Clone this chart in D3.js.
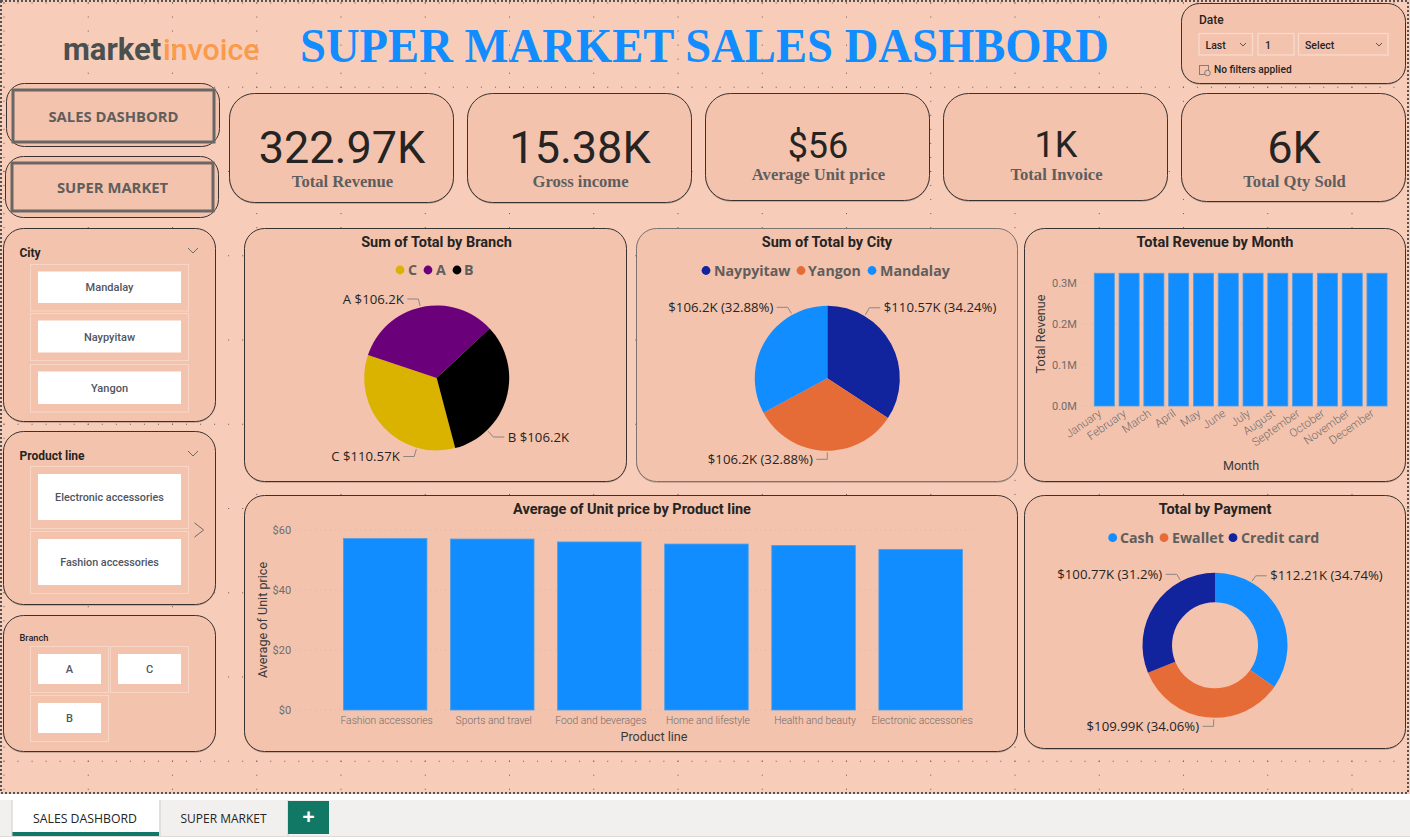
<!DOCTYPE html>
<html><head><meta charset="utf-8">
<script src="https://cdn.jsdelivr.net/npm/d3@7/dist/d3.min.js"></script>
<style>html,body{margin:0;padding:0;background:#fff;overflow:hidden}svg{display:block}text{font-family:Roboto,sans-serif}</style>
</head><body><svg id="c" width="1410" height="840"></svg>
<script>
// ---------- data ----------
const kpiLabels=["Total Revenue","Gross income","Average Unit price","Total Invoice","Total Qty Sold"];
const kpiValues=["322.97K","15.38K","$56","1K","6K"];
const cityNames=["Mandalay","Naypyitaw","Yangon"];
const productSlicer=["Electronic accessories","Fashion accessories"];
const branchSlicer=["A","C","B"];
const branchCats=["C","A","B"];
const branchVals=[110.57,106.2,106.2];
const cityCats=["Naypyitaw","Yangon","Mandalay"];
const cityVals=[110.57,106.2,106.2];
const cityPct=[34.24,32.88,32.88];
const payCats=["Cash","Ewallet","Credit card"];
const payVals=[112.21,109.99,100.77];
const payPct=[34.74,34.06,31.2];
const months=["January","February","March","April","May","June","July","August","September","October","November","December"];
const monthRevenue=[.32297,.32297,.32297,.32297,.32297,.32297,.32297,.32297,.32297,.32297,.32297,.32297];
const productLines=["Fashion accessories","Sports and travel","Food and beverages","Home and lifestyle","Health and beauty","Electronic accessories"];
const unitPrice=[57.15,56.99,56.01,55.32,54.85,53.55];
const tabs=["SALES DASHBORD","SUPER MARKET"];

// ---------- style ----------
const BG="#F7CDBA",CARD="#F4C3AE",EDGE="#3a3230",INK="#252423",GREY="#605E5C",BLUE="#118DFF",NAVY="#12239E",ORANGE="#E66C37",PURPLE="#6B007B",GOLD="#D9B300",TICK="#6f6d6b",AXT="#3b3a39";
const svg=d3.select("#c");
const text=(x,y,s,o={})=>{const t=svg.append("text").attr("x",x).attr("y",y).text(s)
  .attr("font-size",o.size||12).attr("fill",o.fill||INK).attr("text-anchor",o.anchor||"start").attr("font-weight",o.weight||400);
  if(o.font)t.style("font-family",o.font);if(o.ls)t.attr("letter-spacing",o.ls);if(o.len)t.attr("textLength",o.len).attr("lengthAdjust","spacingAndGlyphs");return t;};
const card=(x0,y0,x1,y1,r=20,edge=EDGE)=>{
  svg.append("rect").attr("x",x0+.5).attr("y",y0+1.2).attr("width",x1-x0).attr("height",y1-y0).attr("rx",r).attr("fill","none").attr("stroke","#8a7468").attr("stroke-opacity",.6).attr("stroke-width",1);
  svg.append("rect").attr("x",x0+.5).attr("y",y0+.5).attr("width",x1-x0).attr("height",y1-y0).attr("rx",r).attr("fill",CARD).attr("stroke",edge).attr("stroke-width",1);};
const chevron=(x,y,dir="down",s=5,col="#6f6a68")=>{
  const p=dir=="down"?[[x-s,y-s/2],[x,y+s/2],[x+s,y-s/2]]:[[x-s/1.3,y-s*1.2],[x+s/1.3,y],[x-s/1.3,y+s*1.2]];
  svg.append("path").attr("d",d3.line()(p)).attr("fill","none").attr("stroke",col).attr("stroke-width",1);};

// canvas
svg.append("rect").attr("width",1410).attr("height",794).attr("fill",BG);
const step=84.25,dot=14.04;
const dots=[];
d3.range(0,10).forEach(r=>d3.range(0,101).forEach(i=>dots.push([3.5+i*dot,2.5+r*step])));
d3.range(0,17).forEach(c=>d3.range(0,57).forEach(i=>dots.push([3.5+c*step,2.5+i*dot])));
svg.append("g").selectAll("rect").data(dots).join("rect").attr("x",d=>d[0]).attr("y",d=>d[1]).attr("width",1).attr("height",1).attr("fill","#6b5a52");
svg.append("rect").attr("x",1).attr("y",1).attr("width",1407).attr("height",792).attr("fill","none").attr("stroke","#555").attr("stroke-width",2).attr("stroke-dasharray","2 2");

// bottom tabs
svg.append("rect").attr("x",0).attr("y",800).attr("width",1410).attr("height",36).attr("fill","#F1F0EE");
svg.append("rect").attr("x",0).attr("y",836).attr("width",1410).attr("height",1).attr("fill","#dcdbd9");
svg.append("rect").attr("x",12).attr("y",800).attr("width",147).attr("height",36).attr("fill","#fff");
svg.append("rect").attr("x",12).attr("y",832).attr("width",147).attr("height",4).attr("fill","#117865");
[11.5,159.5,287.5].forEach(x=>svg.append("rect").attr("x",x).attr("y",800).attr("width",1).attr("height",36).attr("fill","#cfcdcb"));
svg.append("rect").attr("x",288).attr("y",801).attr("width",41).attr("height",33).attr("fill","#117865");
text(308.5,824,"+",{size:22,fill:"#fff",anchor:"middle",weight:700,font:"'Open Sans'"});
text(85,823,tabs[0],{size:12.5,anchor:"middle",font:"'Open Sans'",len:104});
text(223.5,823,tabs[1],{size:12.5,anchor:"middle",font:"'Open Sans'",len:86});

// header
text(63,60,"market",{size:31,weight:700,fill:"#4A4F50"});
text(163,60,"invoice",{size:30.4,weight:500,fill:"#FB9A4B"});
text(300,62,"SUPER MARKET SALES DASHBORD",{size:48,weight:700,fill:BLUE,font:"'Liberation Serif'",len:809});

// nav buttons
[[6,83,219,146,13,90,214,142,tabs[0],121.5],[5,156,218,217,12,163,213,211,"SUPER MARKET",192.5]].forEach(b=>{
  svg.append("rect").attr("x",b[0]+.5).attr("y",b[1]+.5).attr("width",b[2]-b[0]).attr("height",b[3]-b[1]).attr("rx",18).attr("fill",CARD).attr("stroke",EDGE);
  svg.append("rect").attr("x",b[4]).attr("y",b[5]).attr("width",b[6]-b[4]).attr("height",b[7]-b[5]).attr("fill",CARD).attr("stroke","#6a6664").attr("stroke-width",3);
  text((b[4]+b[6])/2,b[9],b[8],{size:14.8,weight:700,fill:GREY,anchor:"middle",font:"'Open Sans'"});
});

// KPI cards
const kpiX=[229,467,705,943,1181];
const kpiLayout=[[45,162.5,187,202],[45,162.5,187,202],[36,158,180,200],[36,157,180,200],[45,162.5,187,201]];
kpiValues.forEach((v,i)=>{
  const [fs,by,ly,bot]=kpiLayout[i],x=kpiX[i];
  card(x,93,x+224,bot,25);
  text(x+113,by,v,{size:fs,anchor:"middle"});
  text(x+113.5,ly,kpiLabels[i],{size:16.6,weight:700,fill:GREY,anchor:"middle",font:"'Liberation Serif'"});
});

// date slicer
card(1181,3,1405,83,18);
text(1199,24,"Date",{size:12,weight:500});
[[1199,1252.5],[1258,1294],[1298.5,1388]].forEach(b=>svg.append("rect").attr("x",b[0]).attr("y",33.5).attr("width",b[1]-b[0]).attr("height",21.5).attr("fill","none").attr("stroke","#F5DCCF").attr("stroke-width",1.2));
text(1205.5,49,"Last",{size:10.5,weight:500});
text(1265,49,"1",{size:10.5,weight:500});
text(1305,49,"Select",{size:10.5,weight:500});
chevron(1243,44.5,"down",3,"#555");chevron(1379,44.5,"down",3,"#555");
svg.append("rect").attr("x",1199.5).attr("y",65.5).attr("width",9).attr("height",9).attr("fill","none").attr("stroke","#8a7a72");
svg.append("circle").attr("cx",1207.5).attr("cy",73).attr("r",2.8).attr("fill",CARD).attr("stroke","#8a7a72");
text(1214,72.5,"No filters applied",{size:10.2,weight:500});

// slicers
const slicerBtn=(x0,x1,y0,y1,pad,s,fs=11)=>{
  svg.append("rect").attr("x",x0+.5).attr("y",y0+.5).attr("width",x1-x0).attr("height",y1-y0).attr("fill","none").attr("stroke","#F7D6C6");
  svg.append("rect").attr("x",x0+8).attr("y",y0+pad).attr("width",x1-x0-15).attr("height",y1-y0-2*pad).attr("fill","#fff");
  text((x0+x1)/2+.5,(y0+y1)/2+4,s,{size:fs,weight:500,fill:"#4f5561",anchor:"middle"});
};
card(3,228,215,421,20);
text(19.5,257,"City",{size:12,weight:700});chevron(193,250.5);
[[264,310.5],[313,360],[364,411.5]].forEach((r,i)=>slicerBtn(30,188,r[0],r[1],7.5,cityNames[i]));
card(3,431,215,604,20);
text(19.5,460,"Product line",{size:12,weight:700});chevron(193,453.5);
[[466,528],[531,593]].forEach((r,i)=>slicerBtn(30,188,r[0],r[1],8,productSlicer[i],10.8));
chevron(199,530,"right",6);
card(3,615,215,751,20);
text(19.5,640.5,"Branch",{size:9.2,weight:500});
[[30,108,646,692],[110,188,646,692],[30,108,695,741]].forEach((r,i)=>slicerBtn(r[0],r[1],r[2],r[3],8,branchSlicer[i]));

// chart cards
card(244,228,626,481,20);card(636,228,1017,481,20,"#7d7370");card(1024,228,1405,481,20);
card(244,495,1017,751,20);card(1024,495,1405,748,20);
const title=(x,y,s)=>text(x,y,s,{size:14.5,weight:700,anchor:"middle",font:"Roboto"});
title(436.5,247,"Sum of Total by Branch");title(827,247,"Sum of Total by City");title(1215,247,"Total Revenue by Month");
title(632,514,"Average of Unit price by Product line");title(1215,514,"Total by Payment");

const legend=(cats,colors,y,cx,tx,fs=14.2)=>cats.forEach((c,i)=>{
  svg.append("circle").attr("cx",cx[i]).attr("cy",y).attr("r",4.4).attr("fill",colors[i]);
  text(tx[i],y+5.2,c,{size:fs,weight:700,fill:GREY,font:"'Open Sans'"});
});
const fmtK=v=>"$"+v+"K";
function pieChart(o){
  const g=svg.append("g").attr("transform",`translate(${o.cx},${o.cy})`);
  const pie=d3.pie().sort(null).startAngle(o.start).endAngle(o.start+2*Math.PI);
  const arc=d3.arc().innerRadius(o.inner||0).outerRadius(o.r);
  const arcs=pie(o.vals);
  g.selectAll("path").data(arcs).join("path").attr("d",arc).attr("fill",(d,i)=>o.colors[i]);
  o.labels.forEach((l,i)=>{
    const a=l.angle*Math.PI/180,r0=o.r+1.5,r1=o.r+9;
    const pt=r=>[r*Math.sin(a),-r*Math.cos(a)];
    const p0=pt(r0),p1=[pt(r1)[0],l.ly];
    const p2=[p1[0]+l.dir*11,l.ly];
    g.append("path").attr("d",d3.line()([p0,p1,p2])).attr("fill","none").attr("stroke","#8d8580").attr("stroke-width",1);
    g.append("text").attr("x",p2[0]+l.dir*3.5).attr("y",l.ly+4.5).attr("text-anchor",l.dir>0?"start":"end")
      .attr("font-size",13.2).attr("fill",INK).style("font-family","'Open Sans'").text(o.text(i));
  });
}
legend(branchCats,[GOLD,PURPLE,"#000"],270,[400,428,457],[408,436,464]);
pieChart({cx:436.7,cy:378,r:72.5,start:165.2*Math.PI/180,vals:branchVals,colors:[GOLD,PURPLE,"#000"],
  text:i=>branchCats[i]+" "+fmtK(branchVals[i]),
  labels:[{angle:196,dir:-1,ly:78.5},{angle:347,dir:-1,ly:-79},{angle:136,dir:1,ly:59}]});
legend(cityCats,[NAVY,ORANGE,BLUE],270.5,[706,801,872],[714,808,880]);
pieChart({cx:827.3,cy:378.3,r:72.5,start:0,vals:cityVals,colors:[NAVY,ORANGE,BLUE],
  text:i=>`${fmtK(cityVals[i])} (${cityPct[i]}%)`,
  labels:[{angle:31,dir:1,ly:-70.5},{angle:180,dir:-1,ly:81},{angle:-29,dir:-1,ly:-71}]});
legend(payCats,[BLUE,ORANGE,NAVY],537.7,[1112.7,1164,1233],[1120,1172,1241]);
pieChart({cx:1215,cy:645.3,r:72.5,inner:43,start:0,vals:payVals,colors:[BLUE,ORANGE,NAVY],
  text:i=>`${fmtK(payVals[i])} (${payPct[i]}%)`,
  labels:[{angle:30,dir:1,ly:-69.5},{angle:181,dir:-1,ly:81},{angle:-28,dir:-1,ly:-71}]});

// column charts
function columns(o){
  const x=d3.scaleBand().domain(o.cats).range(o.xr).paddingInner(o.pad).paddingOuter(o.pad/2);
  const y=d3.scaleLinear().domain(o.dom).range(o.yr);
  const ax=svg.append("g").attr("transform",`translate(${o.xr[0]-o.axisGap},0)`)
    .call(d3.axisLeft(y).tickValues(o.ticks).tickFormat(o.fmt).tickSize(0).tickPadding(0));
  ax.select(".domain").remove();
  ax.selectAll("text").attr("font-size",o.tickSize).attr("fill",TICK).style("font-family","Roboto");
  svg.append("g").selectAll("line").data(o.ticks).join("line")
    .attr("x1",o.xr[0]-o.axisGap+4).attr("x2",o.xr[1]).attr("y1",y).attr("y2",y)
    .attr("stroke","#d9b9a8").attr("stroke-width",1).attr("stroke-dasharray","1 4");
  svg.append("g").selectAll("rect").data(o.vals).join("rect")
    .attr("x",(d,i)=>x(o.cats[i])).attr("width",x.bandwidth()).attr("y",d=>y(d)).attr("height",d=>y(0)-y(d))
    .attr("fill",BLUE).attr("stroke","#4b9fe8").attr("stroke-width",.8);
  return {x,y};
}
const mc=columns({cats:months,vals:monthRevenue,xr:[1091.9,1389.4],pad:.19,dom:[0,.3],yr:[406,282.7],ticks:[0,.1,.2,.3],fmt:d=>d.toFixed(1)+"M",axisGap:15,tickSize:11});
months.forEach(m=>{
  svg.append("text").attr("transform",`translate(${mc.x(m)+mc.x.bandwidth()/2-2},${415}) rotate(-35)`)
    .attr("text-anchor","end").attr("font-size",11.5).attr("fill",TICK).style("font-family","Roboto").style("font-weight",300).text(m);
});
text(0,0,"Total Revenue",{size:12.6,anchor:"middle",fill:AXT}).attr("transform","translate(1045,334) rotate(-90)");
text(1241,470,"Month",{size:12.6,anchor:"middle",fill:AXT});

const pc=columns({cats:productLines,vals:unitPrice,xr:[331.6,974.2],pad:.22,dom:[0,60],yr:[710,530],ticks:[0,20,40,60],fmt:d=>"$"+d,axisGap:40.5,tickSize:11});
productLines.forEach(p=>text(pc.x(p)+pc.x.bandwidth()/2+1.5,724,p,{size:10.3,anchor:"middle",fill:TICK,weight:300}));
text(0,0,"Average of Unit price",{size:12.6,anchor:"middle",fill:AXT}).attr("transform","translate(266.5,620) rotate(-90)");
text(654,741,"Product line",{size:12.6,anchor:"middle",fill:AXT});
</script></body></html>
